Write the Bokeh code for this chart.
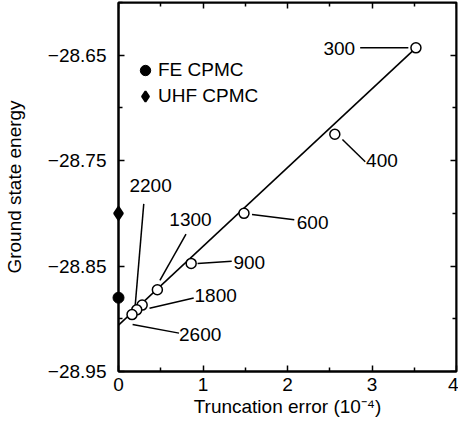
from bokeh.plotting import figure
from bokeh.models import (Range1d, FixedTicker, LinearAxis, CustomJSTickFormatter,
                          ColumnDataSource, Legend, LegendItem)
from bokeh.core.properties import value
from bokeh.embed import file_html
from bokeh.resources import INLINE

# ---------------- data ----------------
cutoff_labels = ["300", "400", "600", "900", "1300", "1800", "2200", "2600"]
trunc_error = [3.52, 2.56, 1.485, 0.86, 0.46, 0.28, 0.216, 0.16]
energy = [-28.643, -28.725, -28.800, -28.8475, -28.8725, -28.887, -28.8915, -28.896]

fit_x = [0.0, 3.52]
fit_y = [-28.906, -28.643]

fe_label = "FE CPMC"
fe_x = [0.0]
fe_y = [-28.880]

uhf_label = "UHF CPMC"
uhf_x = [0.0]
uhf_y = [-28.800]

x_ticks = [0, 1, 2, 3, 4]
x_minor = [0.5, 1.5, 2.5, 3.5]
y_ticks = [-28.95, -28.85, -28.75, -28.65]
y_minor = [-28.90, -28.80, -28.70, -28.60]

# annotation placement (label anchors and leader lines, data units)
label_x = [2.80, 2.93, 2.11, 1.36, 0.852, 0.90, 0.38, 0.716]
label_y = [-28.6434, -28.75, -28.809, -28.847, -28.8055, -28.878, -28.7734, -28.915]
label_align = ["right", "left", "left", "left", "center", "left", "center", "left"]
leader_x0 = [2.86, 2.65, 1.58, 0.935, 0.799, 0.89, 0.299, 0.167]
leader_y0 = [-28.643, -28.730, -28.801, -28.8476, -28.8197, -28.8803, -28.791, -28.9055]
leader_x1 = [3.43, 2.92, 2.08, 1.34, 0.49, 0.367, 0.197, 0.716]
leader_y1 = [-28.643, -28.751, -28.806, -28.8455, -28.8636, -28.89, -28.888, -28.9136]

FONT = "Liberation Sans"
FS = "19px"

p = figure(width=458, height=423, output_backend="svg", toolbar_location=None,
           x_range=Range1d(0, 4), y_range=Range1d(-28.95, -28.60),
           min_border_left=109, min_border_right=2, min_border_top=2, min_border_bottom=52)
p.grid.visible = False
p.outline_line_color = "black"
p.outline_line_width = 2
p.background_fill_color = "white"

xt = FixedTicker(ticks=x_ticks, minor_ticks=x_minor)
yt = FixedTicker(ticks=y_ticks, minor_ticks=y_minor)


def style_axis(ax, ticker):
    ax.ticker = ticker
    ax.axis_line_width = 2
    ax.axis_line_color = "black"
    ax.major_tick_in = 6
    ax.major_tick_out = 0
    ax.minor_tick_in = 4
    ax.minor_tick_out = 0
    ax.major_tick_line_width = 1.5
    ax.minor_tick_line_width = 1.5
    ax.major_label_text_font = FONT
    ax.major_label_text_font_size = FS
    ax.major_label_text_color = "black"
    ax.axis_label_text_font = FONT
    ax.axis_label_text_font_size = FS
    ax.axis_label_text_font_style = "normal"
    ax.axis_label_text_color = "black"


style_axis(p.xaxis[0], xt)
style_axis(p.yaxis[0], yt)
p.xaxis[0].formatter = CustomJSTickFormatter(code="return tick.toFixed(0);")
p.yaxis[0].formatter = CustomJSTickFormatter(
    code="return (tick < 0 ? '\\u2212' : '') + Math.abs(tick).toFixed(2);")
p.xaxis[0].axis_label = "Truncation error (10\u207b\u2074)"
p.yaxis[0].axis_label = "Ground state energy"
p.xaxis[0].major_label_standoff = 6
p.xaxis[0].axis_label_standoff = 2
p.yaxis[0].major_label_standoff = 12
p.yaxis[0].axis_label_standoff = 20

# tick-only axes on the top and right edges of the box (no labels, no size)
top_ax = LinearAxis(fixed_location=-28.60)
right_ax = LinearAxis(fixed_location=4)
for ax, t in ((top_ax, xt), (right_ax, yt)):
    style_axis(ax, t)
    ax.formatter = CustomJSTickFormatter(code="return '';")
    ax.major_label_standoff = 0
p.add_layout(top_ax, "above")
p.add_layout(right_ax, "right")

# fit line
p.line(fit_x, fit_y, line_color="black", line_width=1.6)

# leader lines
p.segment(x0=leader_x0, y0=leader_y0, x1=leader_x1, y1=leader_y1,
          line_color="black", line_width=1.5)

# data points
src = ColumnDataSource(dict(x=trunc_error, y=energy))
p.scatter("x", "y", source=src, marker="circle", size=10, fill_color="white",
          line_color="black", line_width=1.5)

# reference energies
r_fe = p.scatter(fe_x, fe_y, marker="circle", size=11, fill_color="black",
                 line_color="black", level="overlay")
r_uhf = p.scatter(uhf_x, uhf_y, marker="diamond", size=13,
                  fill_color="black", line_color="black", line_width=2,
                  level="overlay")

# labels
lab = ColumnDataSource(dict(x=label_x, y=label_y, t=cutoff_labels, a=label_align))
p.text(x="x", y="y", text="t", source=lab, text_align="a", text_baseline="middle",
       text_font=value(FONT), text_font_size=FS, text_color="black")

legend = Legend(items=[LegendItem(label=fe_label, renderers=[r_fe]),
                       LegendItem(label=uhf_label, renderers=[r_uhf])],
                location=(14, 262), border_line_color=None, background_fill_alpha=0,
                padding=0, margin=0, spacing=0, glyph_width=26, glyph_height=26,
                label_height=24, label_standoff=0, label_text_font=FONT,
                label_text_font_size=FS, label_text_color="black")
p.add_layout(legend)

open("out.html", "w").write(file_html(p, INLINE))
